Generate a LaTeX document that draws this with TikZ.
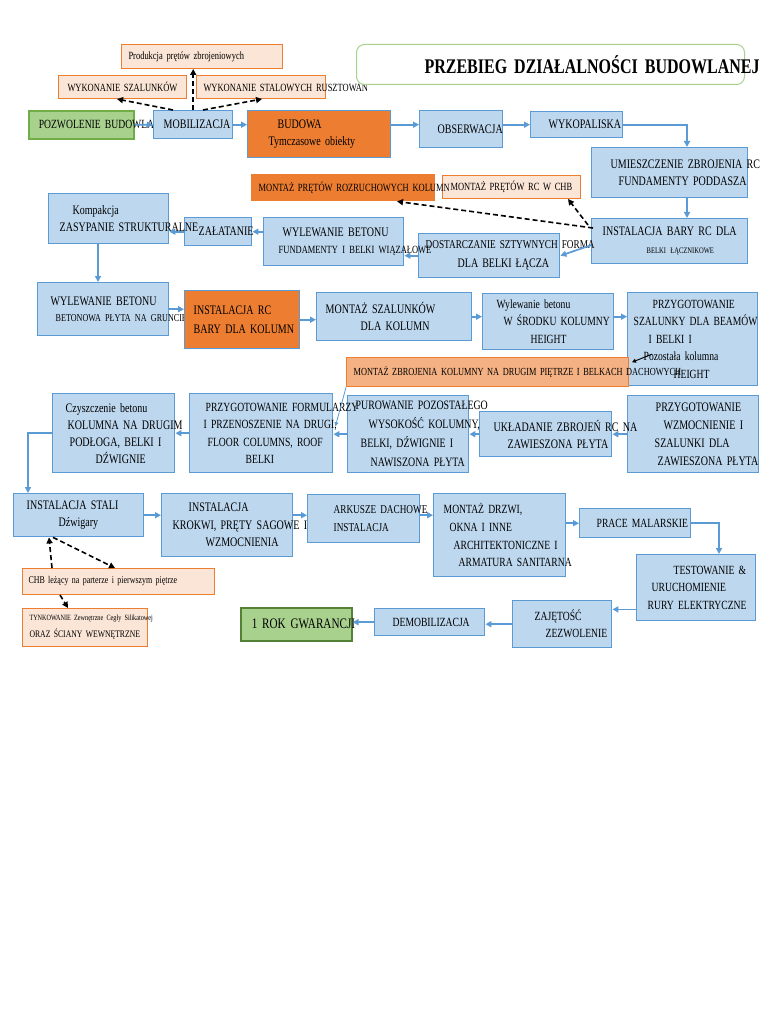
\documentclass[tikz,border=0pt]{standalone}
\usepackage{fontspec}
\setmainfont{Liberation Serif}[FakeStretch=0.77]
\usepackage{tikz}
\usetikzlibrary{arrows.meta, calc}

\definecolor{bfill}{HTML}{BDD7EE}
\definecolor{bedge}{HTML}{5B9BD5}
\definecolor{ofill}{HTML}{ED7D31}
\definecolor{lofill}{HTML}{FBE5D6}
\definecolor{zfill}{HTML}{F4B183}
\definecolor{gfill}{HTML}{A9D18E}
\definecolor{gedge}{HTML}{70AD47}
\definecolor{gdark}{HTML}{548235}

% one line of box text, indented from the left edge
\newcommand{\boxline}[2]{\makebox[0pt][l]{\hspace*{#1pt}#2}}

\begin{document}
\begin{tikzpicture}[
		x=1pt, y=-1pt,
		boxat/.style 2 args={rectangle, anchor=north west, inner xsep=0pt, inner ysep=1pt,
			minimum width=#1pt, text width=#1pt, minimum height=#2pt, align=left,
			font=\fontsize{13}{17.5}\selectfont},
		bluebox/.style={draw=bedge, line width=1.4pt, fill=bfill},
		orangebox/.style={draw=ofill, line width=1.4pt, fill=ofill},
		lightbox/.style={draw=ofill, line width=1pt, fill=lofill},
		peachbox/.style={draw=ofill, line width=1.4pt, fill=zfill},
		greenbox/.style={draw=#1, line width=1.6pt, fill=gfill},
		titlebox/.style={draw=gfill, line width=1pt, fill=white, rounded corners=8pt},
		flow/.style={draw=bedge, line width=1.7pt, -{Triangle[length=6pt,width=6pt]}},
		thinflow/.style={draw=bedge, line width=0.8pt, -{Triangle[length=4pt,width=4pt]}},
		pointer/.style={draw=black, line width=1pt, -{Triangle[length=4pt,width=4pt]}},
		dashflow/.style={draw=black, line width=1.6pt, dash pattern=on 5pt off 3pt, -{Triangle[length=6pt,width=6pt]}}
		]
		
		\fill[white] (0,0) rectangle (768,1024);
		
		% First row
		\node[lightbox, boxat={161}{24}, font=\fontsize{11}{13}\selectfont] (prod) at (121,44) {\boxline{7}{Produkcja prętów zbrojeniowych}};
		\node[lightbox, boxat={128}{23}, font=\fontsize{11}{13}\selectfont] (szal) at (58,75) {\boxline{9}{WYKONANIE SZALUNKÓW}};
		\node[lightbox, boxat={129}{23}, font=\fontsize{11}{13}\selectfont] (rusz) at (196,75) {\boxline{7}{WYKONANIE STALOWYCH RUSZTOWAŃ}};
		\node[greenbox=gedge, boxat={105}{28}, font=\fontsize{12.5}{15}\selectfont] (pozw) at (28,110) {\boxline{10}{POZWOLENIE BUDOWLANE}};
		\node[bluebox, boxat={79}{28}] (mobil) at (153,110) {\boxline{10}{MOBILIZACJA}};
		\node[orangebox, draw=bedge, boxat={143}{47}] (budowa) at (247,110) {\boxline{30}{BUDOWA}\\\boxline{21}{Tymczasowe obiekty}};
		\node[titlebox, boxat={388}{40}, font=\bfseries\fontsize{20.8}{24}\selectfont] (title) at (356,44) {\boxline{68}{PRZEBIEG DZIAŁALNOŚCI BUDOWLANEJ}};
		\node[bluebox, boxat={83}{37}] (obs) at (419,110) {\boxline{18}{OBSERWACJA}};
		\node[bluebox, boxat={92}{26}] (wyk) at (530,111) {\boxline{18}{WYKOPALISKA}};
		\node[bluebox, boxat={156}{50}] (umie) at (591,147) {\boxline{19}{UMIESZCZENIE ZBROJENIA RC}\\\boxline{27}{FUNDAMENTY PODDASZA}};
		
		% Second row
		\node[lightbox, boxat={138}{23}, font=\fontsize{11}{13}\selectfont] (chb) at (442,175) {\boxline{8}{MONTAŻ PRĘTÓW RC W CHB}};
		\node[orangebox, boxat={183}{26}, font=\fontsize{11}{13}\selectfont] (rozr) at (251,174) {\boxline{7}{MONTAŻ PRĘTÓW ROZRUCHOWYCH KOLUMN}};
		\node[bluebox, boxat={156}{45}] (instb) at (591,218) {\boxline{11}{INSTALACJA BARY RC DLA}\\\boxline{55}{\fontsize{8.5}{10}\selectfont BELKI ŁĄCZNIKOWE}};
		\node[bluebox, boxat={141}{44}, font=\fontsize{12}{19}\selectfont] (dost) at (418,233) {\boxline{7}{DOSTARCZANIE SZTYWNYCH FORMA}\\\boxline{39}{\fontsize{13}{15}\selectfont DLA BELKI ŁĄCZA}};
		\node[bluebox, boxat={140}{48}] (wylew1) at (263,217) {\boxline{19}{WYLEWANIE BETONU}\\\boxline{15}{\fontsize{11}{13}\selectfont FUNDAMENTY I BELKI WIĄZAŁOWE}};
		\node[bluebox, boxat={67}{28}] (zal) at (184,217) {\boxline{14}{ZAŁATANIE}};
		\node[bluebox, boxat={120}{50}] (komp) at (48,193) {\boxline{24}{Kompakcja}\\\boxline{11}{ZASYPANIE STRUKTURALNE}};
		
		% Third row
		\node[bluebox, boxat={131}{53}, font=\fontsize{13}{15.5}\selectfont] (wylew2) at (37,282) {\boxline{13}{WYLEWANIE BETONU}\\\boxline{18}{\fontsize{10.5}{12}\selectfont BETONOWA PŁYTA NA GRUNCIE}};
		\node[orangebox, draw=bedge, boxat={115}{58}, font=\fontsize{13}{19}\selectfont] (instrc) at (184,290) {\boxline{9}{INSTALACJA RC}\\\boxline{9}{BARY DLA KOLUMN}};
		\node[bluebox, boxat={155}{48}] (szalk) at (316,292) {\boxline{9}{MONTAŻ SZALUNKÓW}\\\boxline{44}{DLA KOLUMN}};
		\node[bluebox, boxat={131}{56}, font=\fontsize{12.5}{17.5}\selectfont] (srod) at (482,293) {\boxline{14}{Wylewanie betonu}\\\boxline{21}{W ŚRODKU KOLUMNY}\\\boxline{48}{HEIGHT}};
		\node[bluebox, boxat={130}{93}, font=\fontsize{12.5}{17.5}\selectfont] (beam) at (627,292) {\boxline{25}{PRZYGOTOWANIE}\\\boxline{6}{SZALUNKY DLA BEAMÓW}\\\boxline{21}{I BELKI I}\\\boxline{16}{Pozostała kolumna}\\\boxline{46}{HEIGHT}};
		\node[peachbox, boxat={282}{29}, font=\fontsize{10.8}{13}\selectfont] (zbroj) at (346,357) {\boxline{7}{MONTAŻ ZBROJENIA KOLUMNY NA DRUGIM PIĘTRZE I BELKACH DACHOWYCH}};
		
		% Fourth row
		\node[bluebox, boxat={121}{77}, font=\fontsize{12.8}{19}\selectfont] (purow) at (347,395) {\boxline{8}{PUROWANIE POZOSTAŁEGO}\\\boxline{21}{WYSOKOŚĆ KOLUMNY,}\\\boxline{13}{BELKI, DŹWIGNIE I}\\\boxline{23}{NAWISZONA PŁYTA}};
		\node[bluebox, boxat={143}{79}, font=\fontsize{12.5}{17.5}\selectfont] (form) at (189,393) {\boxline{16}{PRZYGOTOWANIE FORMULARZY}\\\boxline{14}{I PRZENOSZENIE NA DRUGI,}\\\boxline{18}{FLOOR COLUMNS, ROOF}\\\boxline{56}{BELKI}};
		\node[bluebox, boxat={122}{79}, font=\fontsize{13}{17}\selectfont] (czysz) at (52,393) {\boxline{13}{Czyszczenie betonu}\\\boxline{15}{KOLUMNA NA DRUGIM}\\\boxline{17}{PODŁOGA, BELKI I}\\\boxline{43}{DŹWIGNIE}};
		\node[bluebox, boxat={131}{77}, font=\fontsize{13}{18}\selectfont] (wzm) at (627,395) {\boxline{28}{PRZYGOTOWANIE}\\\boxline{36}{WZMOCNIENIE I}\\\boxline{27}{SZALUNKI DLA}\\\boxline{30}{ZAWIESZONA PŁYTA}};
		\node[bluebox, boxat={132}{45}, font=\fontsize{13}{17}\selectfont] (ukl) at (479,411) {\boxline{14}{UKŁADANIE ZBROJEŃ RC NA}\\\boxline{28}{ZAWIESZONA PŁYTA}};
		
		% Fifth row
		\node[bluebox, boxat={130}{43}, font=\fontsize{13}{17}\selectfont] (stali) at (13,493) {\boxline{13}{INSTALACJA STALI}\\\boxline{45}{Dźwigary}};
		\node[bluebox, boxat={131}{63}] (krok) at (161,493) {\boxline{27}{INSTALACJA}\\\boxline{11}{KROKWI, PRĘTY SAGOWE I}\\\boxline{44}{WZMOCNIENIA}};
		\node[bluebox, boxat={112}{48}, font=\fontsize{12}{18}\selectfont] (ark) at (307,494) {\boxline{26}{ARKUSZE DACHOWE}\\\boxline{26}{INSTALACJA}};
		\node[bluebox, boxat={132}{83}, font=\fontsize{12.5}{17.7}\selectfont] (drzwi) at (433,493) {\boxline{10}{MONTAŻ DRZWI,}\\\boxline{16}{OKNA I INNE}\\\boxline{20}{ARCHITEKTONICZNE I}\\\boxline{25}{ARMATURA SANITARNA}};
		\node[bluebox, boxat={111}{29}, font=\fontsize{12.5}{15}\selectfont] (malar) at (579,508) {\boxline{17}{PRACE MALARSKIE}};
		\node[bluebox, boxat={119}{66}, font=\fontsize{12.5}{17.5}\selectfont] (test) at (636,554) {\boxline{37}{TESTOWANIE \&}\\\boxline{15}{URUCHOMIENIE}\\\boxline{11}{RURY ELEKTRYCZNE}};
		\node[bluebox, boxat={99}{47}, font=\fontsize{12.5}{17}\selectfont] (zaj) at (512,600) {\boxline{22}{ZAJĘTOŚĆ}\\\boxline{33}{ZEZWOLENIE}};
		\node[bluebox, boxat={110}{27}, font=\fontsize{12.5}{15}\selectfont] (demob) at (374,608) {\boxline{18}{DEMOBILIZACJA}};
		\node[greenbox=gdark, boxat={111}{33}, font=\fontsize{14.5}{17}\selectfont] (gwar) at (240,607) {\boxline{11}{1 ROK GWARANCJI}};
		\node[lightbox, boxat={192}{26}, font=\fontsize{10.3}{12}\selectfont] (chb2) at (22,568) {\boxline{6}{CHB leżący na parterze i pierwszym piętrze}};
		\node[lightbox, boxat={125}{38}, font=\fontsize{10}{17}\selectfont] (tynk) at (22,608) {\boxline{7}{\fontsize{8}{9}\selectfont TYNKOWANIE Zewnętrzne Cegły Silikatowej}\\\boxline{7}{ORAZ ŚCIANY WEWNĘTRZNE}};
		
		% Main flow
		\draw[flow] (pozw.east) -- (mobil.west);
		\draw[flow] (mobil.east) -- (mobil.east -| budowa.west);
		\draw[flow] (budowa.east |- mobil.east) -- (obs.west |- mobil.east);
		\draw[flow] (obs.east |- wyk.west) -- (wyk.west);
		\draw[flow] (wyk.east) -| ($(umie.north west)+(96,0)$);
		\draw[flow] ($(umie.south west)+(96,0)$) -- ($(instb.north west)+(96,0)$);
		\draw[flow] ($(instb.west)+(0,4)$) -- (dost.east);
		\draw[flow] (dost.west) -- (dost.west -| wylew1.east);
		\draw[flow] (zal.east -| wylew1.west) -- (zal.east);
		\draw[flow] (zal.west) -- (zal.west -| komp.east);
		\draw[flow] ($(komp.south west)+(50,0)$) -- ($(wylew2.north west)+(61,0)$);
		\draw[flow] (wylew2.east) -- (wylew2.east -| instrc.west);
		\draw[flow] (instrc.east) -- (instrc.east -| szalk.west);
		\draw[flow] (szalk.east) -- (szalk.east -| srod.west);
		\draw[flow] (szalk.east -| srod.east) -- (szalk.east -| beam.west);
		\draw[pointer] ($(beam.west)+(25,15)$) -- ($(beam.west)+(5,23)$);
		\draw[thinflow] (zbroj.south west) -- ($(form.east)+(2,-7)$);
		\draw[flow] (purow.west) -- (purow.west -| form.east);
		\draw[flow] (ukl.west) -- (ukl.west -| purow.east);
		\draw[flow] (wzm.west) -- (wzm.west -| ukl.east);
		\draw[flow] (form.west) -- (form.west -| czysz.east);
		\draw[flow] (czysz.west) -| ($(stali.north west)+(15,0)$);
		\draw[flow] (stali.east) -- (stali.east -| krok.west);
		\draw[flow] (stali.east -| krok.east) -- (stali.east -| ark.west);
		\draw[flow] (stali.east -| ark.east) -- (stali.east -| drzwi.west);
		\draw[flow] (malar.west -| drzwi.east) -- (malar.west);
		\draw[flow] (malar.east) -| ($(test.north west)+(83,0)$);
		\coordinate (tz) at ($(test.south west)+(0,-12)$);
		\draw[flow] (tz) -- (tz -| zaj.east);
		\draw[flow] (zaj.west) -- (zaj.west -| demob.east);
		\draw[flow] (demob.west) -- (demob.west -| gwar.east);
		
		% Side tasks (dashed)
		\draw[dashflow] (mobil.north) -- (mobil.north |- prod.south);
		\draw[dashflow] ($(mobil.north west)+(20,0)$) -- ($(szal.south west)+(59,0)$);
		\draw[dashflow] ($(mobil.north west)+(50,0)$) -- ($(rusz.south west)+(66,0)$);
		\draw[dashflow] ($(instb.north west)+(2,10)$) -- ($(rozr.south west)+(146,0)$);
		\draw[dashflow] ($(instb.north west)+(-3,7)$) -- ($(chb.south west)+(126,0)$);
		\draw[dashflow] ($(chb2.north west)+(30,0)$) -- ($(stali.south west)+(36,0)$);
		\draw[dashflow] ($(stali.south west)+(40,0)$) -- ($(chb2.north west)+(93,0)$);
		\draw[dashflow] ($(chb2.south west)+(38,0)$) -- ($(tynk.north west)+(46,0)$);
		
	\end{tikzpicture}
\end{document}
